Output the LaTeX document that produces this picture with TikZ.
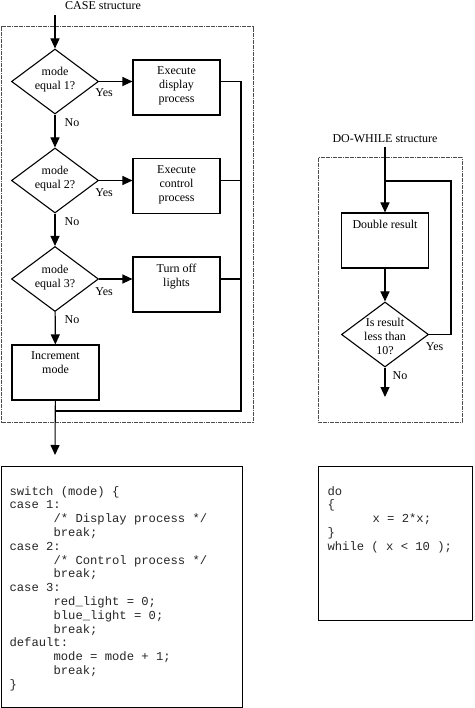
\documentclass[tikz,border=0pt]{standalone}
\usepackage{fontspec}
\setmainfont{Liberation Serif}
\newfontfamily\codefont{Liberation Mono}
\usetikzlibrary{shapes.geometric,arrows.meta}
\begin{document}
\begin{tikzpicture}[x=1pt,y=-1pt,
  line width=1.1pt,
  dia/.style={draw,shape=diamond,minimum width=87pt,minimum height=65pt,inner sep=0pt},
  proc/.style={draw,rectangle,minimum width=87pt,minimum height=55pt,inner sep=0pt},
  txt/.style={font=\fontsize{12}{14}\selectfont,align=center,inner sep=0pt},
  lbl/.style={font=\fontsize{12}{14}\selectfont,inner sep=0pt},
  flow/.style={-{Triangle[length=10pt,width=9pt]}},
  frame/.style={draw=black!70,line width=1pt,dash pattern=on 1.8pt off 0.6pt},
  codebox/.style={draw,line width=1.1pt,anchor=north west,inner sep=0pt},
  code/.style={font=\codefont\fontsize{12.2}{13.8}\selectfont,align=left,inner sep=0pt,anchor=base west,text=black!85}]
\useasboundingbox (0,0) rectangle (474,708);

% frames
\draw[frame] (1,27) rectangle (253,422);
\draw[frame] (318,158) rectangle (462,422);

% titles
\node[lbl,anchor=base] (t1) at (103,10) {CASE structure};
\node[lbl,anchor=base] (t2) at (385,143) {DO-WHILE structure};

% CASE structure
\coordinate (s1) at (55,15);
\node[dia] (d1) at (55,81.5) {};
\node[txt] (d1t) at (55,80) {mode\\equal 1?};
\node[dia] (d2) at (55,180.5) {};
\node[txt] (d2t) at (55,179) {mode\\equal 2?};
\node[dia] (d3) at (55,279) {};
\node[txt] (d3t) at (55,277.5) {mode\\equal 3?};

\node[proc] (b1) at (176.5,87.5) {};
\node[txt,anchor=north] (b1t) at ([yshift=-7pt]b1.north) {Execute\\display\\process};
\node[proc] (b2) at (176.5,186) {};
\node[txt,anchor=north] (b2t) at ([yshift=-7pt]b2.north) {Execute\\control\\process};
\node[proc] (b3) at (176.5,284.5) {};
\node[txt,anchor=north] (b3t) at ([yshift=-7pt]b3.north) {Turn off\\lights};
\node[proc] (inc) at (55.5,372.5) {};
\node[txt,anchor=north] (inct) at ([yshift=-7pt]inc.north) {Increment\\mode};

\node[lbl] (y1) at ([xshift=5pt,yshift=-11.5pt]d1.east) {Yes};
\node[lbl] (y2) at ([xshift=5pt,yshift=-12pt]d2.east) {Yes};
\node[lbl] (y3) at ([xshift=5pt,yshift=-12.5pt]d3.east) {Yes};
\node[lbl] (n1) at ([xshift=17pt,yshift=-8pt]d1.south) {No};
\node[lbl] (n2) at ([xshift=17pt,yshift=-8pt]d2.south) {No};
\node[lbl] (n3) at ([xshift=17pt,yshift=-8pt]d3.south) {No};

\coordinate (rt) at (241,411);
\coordinate (jn) at (55,411);
\coordinate (ex) at (55,455);

\draw[flow] (s1) -- (d1);
\draw[flow] (d1.east) -- (d1.east -| b1.west);
\draw[flow] (d1) -- (d2);
\draw[flow] (d2.east) -- (d2.east -| b2.west);
\draw[flow] (d2) -- (d3);
\draw[flow] (d3.east) -- (d3.east -| b3.west);
\draw[flow] (d3) -- (inc);
\draw (b1.east |- d1.east) -- (d1.east -| rt) -- (rt) -- (jn);
\draw (b2.east |- d2.east) -- (d2.east -| rt);
\draw (b3.east |- d3.east) -- (d3.east -| rt);
\draw[flow] (inc) -- (ex);

% DO-WHILE structure
\coordinate (s2) at (385,147);
\node[proc] (db) at (385,240.5) {};
\node[txt,anchor=north] (dbt) at ([yshift=-7pt]db.north) {Double result};
\node[dia] (dw) at (385,334.5) {};
\node[txt] (dwt) at (385,336) {Is result\\less than\\10?};
\node[lbl] (y4) at ([xshift=5.5pt,yshift=-12.5pt]dw.east) {Yes};
\node[lbl] (n4) at ([xshift=15pt,yshift=-8pt]dw.south) {No};
\coordinate (lp) at (451,181);
\coordinate (jn2) at (385,181);
\coordinate (ex2) at (385,397);
\draw[flow] (s2) -- (db);
\draw[flow] (db) -- (dw);
\draw (dw.east) -- (dw.east -| lp) -- (lp) -- (jn2);
\draw[flow] (dw) -- (ex2);

% code boxes
\node[codebox,minimum width=241pt,minimum height=241pt] (cb1) at (1,466) {};
\node[codebox,minimum width=154pt,minimum height=154pt] (cb2) at (318,466) {};
\node[code] (c1) at (9,688.2) {switch (mode) \{\\
case 1:\\
\hspace*{44pt}/* Display process */\\
\hspace*{44pt}break;\\
case 2:\\
\hspace*{44pt}/* Control process */\\
\hspace*{44pt}break;\\
case 3:\\
\hspace*{44pt}red\_light = 0;\\
\hspace*{44pt}blue\_light = 0;\\
\hspace*{44pt}break;\\
default:\\
\hspace*{44pt}mode = mode + 1;\\
\hspace*{44pt}break;\\
\}};
\node[code] (c2) at (327,550.2) {do\\
\{\\
\hspace*{45pt}x = 2*x;\\
\}\\
while ( x < 10 );};
\end{tikzpicture}
\end{document}
